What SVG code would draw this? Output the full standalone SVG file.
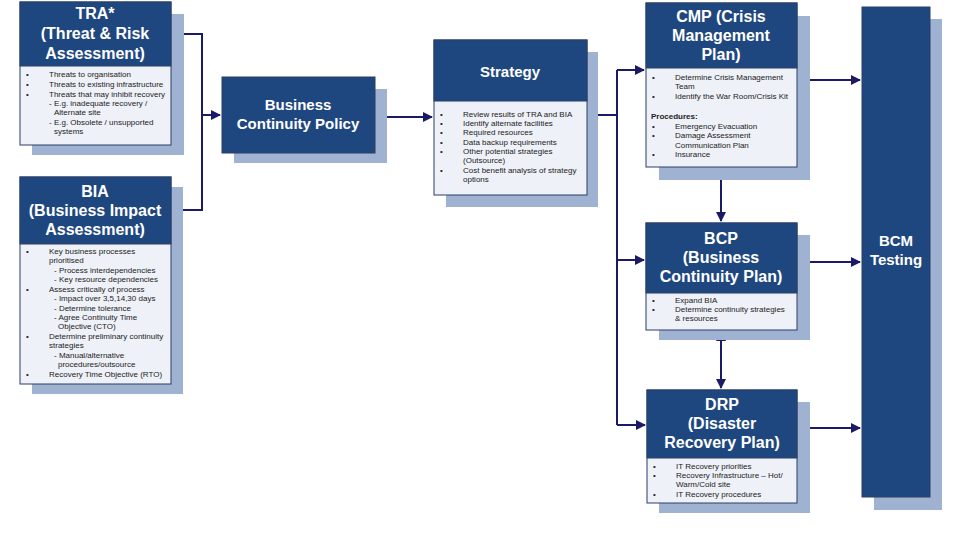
<svg xmlns="http://www.w3.org/2000/svg" width="968" height="552" viewBox="0 0 968 552">
<style>
.sh{fill:#9fb2d1}
.hd{fill:#1f477f;stroke:#2a3f66;stroke-width:1}
.bd{fill:#eef1f7;stroke:#2a3f66;stroke-width:1}
.t{font-family:"Liberation Sans",Arial,sans-serif;font-weight:bold;fill:#fff;text-anchor:middle}
.s{font-family:"Liberation Sans",Arial,sans-serif;font-size:8px;fill:#222}
.c{fill:none;stroke:#1a1a66;stroke-width:2}
</style>
<defs>
<marker id="a" viewBox="0 0 10 10" refX="9" refY="5" markerWidth="5" markerHeight="5" orient="auto-start-reverse"><path d="M0,0L10,5L0,10z" fill="#1a1a66"/></marker>
</defs>
<rect width="968" height="552" fill="#fff"/>
<g id="conn">
<path class="c" d="M171,34H202V210H171"/>
<path class="c" d="M202,115H220" marker-end="url(#a)"/>
<path class="c" d="M377,117H432" marker-start="url(#a)" marker-end="url(#a)"/>
<path class="c" d="M587,115H617"/>
<path class="c" d="M617,70V425"/>
<path class="c" d="M617,70H644" marker-end="url(#a)"/>
<path class="c" d="M617,260H644" marker-end="url(#a)"/>
<path class="c" d="M617,425H645" marker-end="url(#a)"/>
<path class="c" d="M721,167V221" marker-end="url(#a)"/>
<path class="c" d="M721,332V388" marker-start="url(#a)" marker-end="url(#a)"/>
<path class="c" d="M799,80H860" marker-start="url(#a)" marker-end="url(#a)"/>
<path class="c" d="M799,262H860" marker-start="url(#a)" marker-end="url(#a)"/>
<path class="c" d="M799,428H860" marker-start="url(#a)" marker-end="url(#a)"/>
</g>
<g id="tra">
<rect class="sh" x="32" y="14" width="152" height="141"/>
<rect class="bd" x="20" y="2" width="151" height="143"/>
<rect class="hd" x="20" y="2" width="151" height="64"/>
<text class="t" font-size="16"><tspan x="95" y="19">TRA*</tspan><tspan x="95" y="39">(Threat &amp; Risk</tspan><tspan x="95" y="59">Assessment)</tspan></text>
<text class="s"><tspan x="26" y="77">•</tspan><tspan x="49">Threats to organisation</tspan><tspan x="26" y="87">•</tspan><tspan x="49">Threats to existing infrastructure</tspan><tspan x="26" y="97">•</tspan><tspan x="49">Threats that may inhibit recovery</tspan><tspan x="49" y="106">- E.g. inadequate recovery /</tspan><tspan x="54" y="115">Alternate site</tspan><tspan x="49" y="125">- E.g. Obsolete / unsupported</tspan><tspan x="54" y="134">systems</tspan></text>
</g>
<g id="bia">
<rect class="sh" x="32" y="187" width="151" height="207"/>
<rect class="bd" x="20" y="177" width="151" height="207"/>
<rect class="hd" x="20" y="177" width="151" height="67"/>
<text class="t" font-size="16"><tspan x="95" y="197">BIA</tspan><tspan x="95" y="216">(Business Impact</tspan><tspan x="95" y="235">Assessment)</tspan></text>
<text class="s"><tspan x="26" y="254">•</tspan><tspan x="49">Key business processes</tspan><tspan x="49" y="263">prioritised</tspan><tspan x="54" y="273">- Process interdependencies</tspan><tspan x="54" y="282">- Key resource dependencies</tspan><tspan x="26" y="292">•</tspan><tspan x="49">Assess critically of process</tspan><tspan x="54" y="301">- Impact over 3,5,14,30 days</tspan><tspan x="54" y="311">- Determine tolerance</tspan><tspan x="54" y="320">- Agree Continuity Time</tspan><tspan x="58" y="329">Objective (CTO)</tspan><tspan x="26" y="339">•</tspan><tspan x="49">Determine preliminary continuity</tspan><tspan x="49" y="348">strategies</tspan><tspan x="54" y="358">- Manual/alternative</tspan><tspan x="58" y="367">procedures/outsource</tspan><tspan x="26" y="377">•</tspan><tspan x="49">Recovery Time Objective (RTO)</tspan></text>
</g>
<g id="bcpolicy">
<rect class="sh" x="234" y="89" width="153" height="74"/>
<rect class="hd" x="222" y="77" width="153" height="76"/>
<text class="t" font-size="15"><tspan x="298" y="110">Business</tspan><tspan x="298" y="129">Continuity Policy</tspan></text>
</g>
<g id="strategy">
<rect class="sh" x="446" y="52" width="152" height="155"/>
<rect class="bd" x="434" y="40" width="153" height="155"/>
<rect class="hd" x="434" y="40" width="153" height="61"/>
<text class="t" font-size="15" x="510" y="77">Strategy</text>
<text class="s"><tspan x="440" y="117">•</tspan><tspan x="463">Review results of TRA and BIA</tspan><tspan x="440" y="126">•</tspan><tspan x="463">Identify alternate facilities</tspan><tspan x="440" y="135">•</tspan><tspan x="463">Required resources</tspan><tspan x="440" y="145">•</tspan><tspan x="463">Data backup requirements</tspan><tspan x="440" y="154">•</tspan><tspan x="463">Other potential strategies</tspan><tspan x="463" y="163">(Outsource)</tspan><tspan x="440" y="173">•</tspan><tspan x="463">Cost benefit analysis of strategy</tspan><tspan x="463" y="182">options</tspan></text>
</g>
<g id="cmp">
<rect class="sh" x="659" y="16" width="151" height="164"/>
<rect class="bd" x="646" y="3" width="151" height="164"/>
<rect class="hd" x="646" y="3" width="151" height="65"/>
<text class="t" font-size="16"><tspan x="721" y="22">CMP (Crisis</tspan><tspan x="721" y="41">Management</tspan><tspan x="721" y="60">Plan)</tspan></text>
<text class="s"><tspan x="652" y="80">•</tspan><tspan x="675">Determine Crisis Management</tspan><tspan x="675" y="89">Team</tspan><tspan x="652" y="99">•</tspan><tspan x="675">Identify the War Room/Crisis Kit</tspan><tspan x="651" y="119" font-weight="bold">Procedures:</tspan><tspan x="652" y="129">•</tspan><tspan x="675">Emergency Evacuation</tspan><tspan x="652" y="138">•</tspan><tspan x="675">Damage Assessment</tspan><tspan x="675" y="148">Communication Plan</tspan><tspan x="652" y="157">•</tspan><tspan x="675">Insurance</tspan></text>
</g>
<g id="bcp">
<rect class="sh" x="659" y="235" width="151" height="105"/>
<rect class="bd" x="646" y="223" width="151" height="107"/>
<rect class="hd" x="646" y="223" width="151" height="70"/>
<text class="t" font-size="16"><tspan x="721" y="244">BCP</tspan><tspan x="721" y="263">(Business</tspan><tspan x="721" y="282">Continuity Plan)</tspan></text>
<text class="s"><tspan x="652" y="303">•</tspan><tspan x="675">Expand BIA</tspan><tspan x="652" y="312">•</tspan><tspan x="675">Determine continuity strategies</tspan><tspan x="675" y="321">&amp; resources</tspan></text>
</g>
<g id="drp">
<rect class="sh" x="659" y="402" width="151" height="111"/>
<rect class="bd" x="647" y="390" width="150" height="113"/>
<rect class="hd" x="647" y="390" width="150" height="68"/>
<text class="t" font-size="16"><tspan x="722" y="410">DRP</tspan><tspan x="722" y="429">(Disaster</tspan><tspan x="722" y="448">Recovery Plan)</tspan></text>
<text class="s"><tspan x="653" y="469">•</tspan><tspan x="676">IT Recovery priorities</tspan><tspan x="653" y="478">•</tspan><tspan x="676">Recovery Infrastructure – Hot/</tspan><tspan x="676" y="487">Warm/Cold site</tspan><tspan x="653" y="497">•</tspan><tspan x="676">IT Recovery procedures</tspan></text>
</g>
<g id="bcm">
<rect class="sh" x="874" y="19" width="68" height="491"/>
<rect class="hd" x="862" y="7" width="68" height="490"/>
<text class="t" font-size="15"><tspan x="896" y="246">BCM</tspan><tspan x="896" y="265">Testing</tspan></text>
</g>
</svg>
